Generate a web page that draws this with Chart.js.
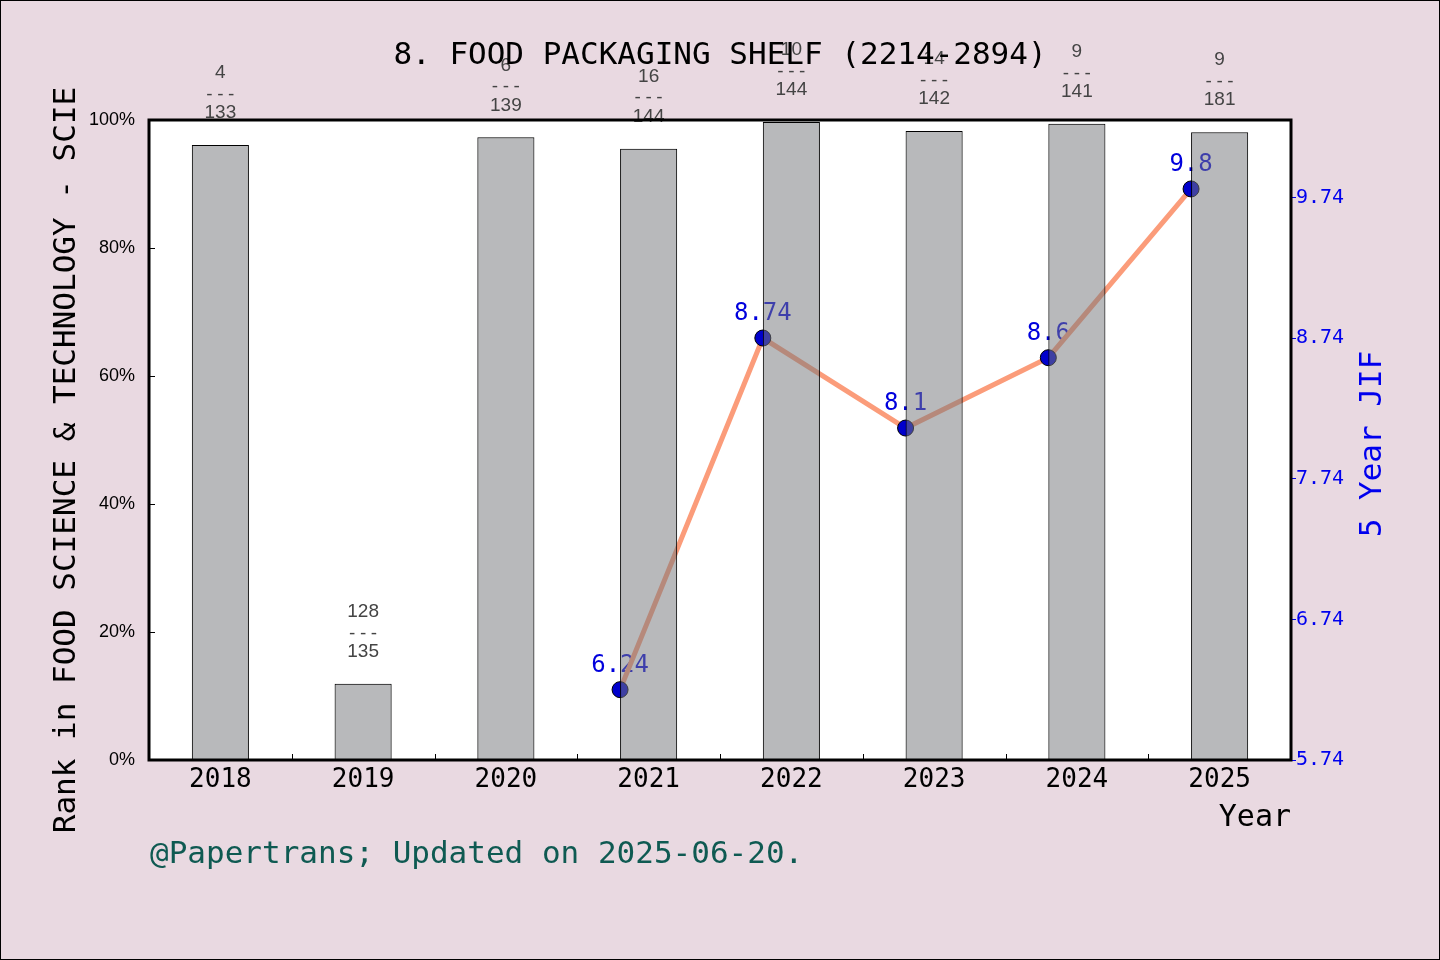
<!DOCTYPE html>
<html>
<head>
<meta charset="utf-8">
<script src="https://cdn.jsdelivr.net/npm/chart.js@4/dist/chart.umd.min.js"></script>
<style>
  html, body { margin: 0; padding: 0; background: #e9d9e1; }
  canvas { display: block; }
</style>
</head>
<body>
<canvas id="c" width="1440" height="960"></canvas>
<script>
// Chart data
const years = ['2018', '2019', '2020', '2021', '2022', '2023', '2024', '2025'];
const rankPct = [96.1, 11.9, 97.3, 95.5, 99.7, 98.3, 99.4, 98.1];
const ranks = ['4', '128', '6', '16', '10', '14', '9', '9'];
const totals = ['133', '135', '139', '144', '144', '142', '141', '181'];
const jif = [null, null, null, 6.24, 8.74, 8.1, 8.6, 9.8];
const jifTicks = [5.74, 6.74, 7.74, 8.74, 9.74];
const jifMax = 10.29;

const MONO = '"DejaVu Sans Mono", monospace';
const SANS = '"Liberation Sans", Arial, sans-serif';
const LINE_SHIFT = 0.2; // line points sit on the left edge of each bar

const jifPoints = jif.map((v, i) => v == null ? null : { x: i - LINE_SHIFT, y: v }).filter(p => p);

const decor = {
    id: 'decor',
    beforeDraw(chart) {
        const { ctx, chartArea: a } = chart;
        ctx.save();
        ctx.fillStyle = '#e9d9e1';
        ctx.fillRect(0, 0, chart.width, chart.height);
        ctx.fillStyle = '#fff';
        ctx.fillRect(a.left, a.top, a.right - a.left, a.bottom - a.top);
        ctx.restore();
    },
    beforeDatasetsDraw(chart) {
        // JIF value labels sit under the bars
        const { ctx } = chart;
        const meta = chart.getDatasetMeta(1);
        ctx.save();
        ctx.font = '24px ' + MONO;
        ctx.fillStyle = '#0000dd';
        ctx.textAlign = 'center';
        ctx.textBaseline = 'bottom';
        meta.data.forEach((pt, i) => {
            ctx.fillText(String(jifPoints[i].y), pt.x, pt.y - 12);
        });
        ctx.restore();
    },
    afterDatasetsDraw(chart) {
        const { ctx, chartArea: a, scales } = chart;
        ctx.save();
        // rank / total labels above bars
        const meta = chart.getDatasetMeta(0);
        ctx.fillStyle = '#444';
        ctx.textAlign = 'center';
        ctx.textBaseline = 'middle';
        meta.data.forEach((bar, i) => {
            const top = bar.y;
            ctx.font = '19px ' + SANS;
            ctx.fillText(totals[i], bar.x, top - 32);
            ctx.fillText(ranks[i], bar.x, top - 72);
            ctx.font = '18px ' + MONO;
            ctx.fillText('---', bar.x, top - 51);
        });

        // inner ticks
        ctx.strokeStyle = '#000';
        ctx.lineWidth = 1;
        ctx.beginPath();
        scales.y.ticks.forEach(t => {
            const y = Math.round(scales.y.getPixelForValue(t.value)) + 0.5;
            ctx.moveTo(a.left, y);
            ctx.lineTo(a.left + 6, y);
        });
        for (let i = 1; i < years.length; i++) {
            const x = Math.round((scales.x.getPixelForValue(i - 1) + scales.x.getPixelForValue(i)) / 2) + 0.5;
            ctx.moveTo(x, a.bottom);
            ctx.lineTo(x, a.bottom - 6);
        }
        ctx.stroke();

        // plot frame
        ctx.lineWidth = 3;
        ctx.strokeRect(a.left, a.top, a.right - a.left, a.bottom - a.top);
        ctx.restore();
    },
    afterDraw(chart) {
        const { ctx, chartArea: a } = chart;
        ctx.save();
        ctx.fillStyle = '#000';
        ctx.textAlign = 'center';
        ctx.textBaseline = 'middle';
        ctx.font = '31px ' + MONO;
        ctx.fillText('8. FOOD PACKAGING SHELF (2214-2894)', 720, 56);

        ctx.font = '30px ' + MONO;
        ctx.textAlign = 'right';
        ctx.fillText('Year', a.right, 818);

        ctx.textAlign = 'left';
        ctx.fillStyle = '#0f5a52';
        ctx.font = '31px ' + MONO;
        ctx.fillText('@Papertrans; Updated on 2025-06-20.', 150, 855);

        ctx.textAlign = 'center';
        ctx.fillStyle = '#000';
        ctx.font = '31px ' + MONO;
        ctx.translate(67, 460);
        ctx.rotate(-Math.PI / 2);
        ctx.fillText('Rank in FOOD SCIENCE & TECHNOLOGY - SCIE', 0, 0);
        ctx.restore();

        ctx.save();
        ctx.fillStyle = '#0000ee';
        ctx.textAlign = 'center';
        ctx.textBaseline = 'middle';
        ctx.font = '31px ' + MONO;
        ctx.translate(1373, 444);
        ctx.rotate(-Math.PI / 2);
        ctx.fillText('5 Year JIF', 0, 0);
        ctx.restore();

        // figure outline
        ctx.save();
        ctx.strokeStyle = '#000';
        ctx.lineWidth = 1;
        ctx.strokeRect(0.5, 0.5, chart.width - 1, chart.height - 1);
        ctx.restore();
    }
};

new Chart(document.getElementById('c'), {
    type: 'bar',
    data: {
        labels: years,
        datasets: [
            {
                type: 'bar',
                label: 'Rank',
                data: rankPct,
                backgroundColor: 'rgba(118, 120, 125, 0.52)',
                borderColor: '#000',
                borderWidth: 1,
                grouped: false,
                barPercentage: 0.4,
                categoryPercentage: 1,
                xAxisID: 'x',
                yAxisID: 'y',
                order: 1
            },
            {
                type: 'line',
                label: 'JIF',
                data: jifPoints,
                borderColor: '#fb9c7a',
                borderWidth: 5,
                tension: 0,
                pointRadius: 8,
                pointBackgroundColor: '#0000cc',
                pointBorderColor: '#000',
                pointBorderWidth: 1,
                xAxisID: 'xl',
                yAxisID: 'y2',
                order: 2
            }
        ]
    },
    options: {
        responsive: false,
        animation: false,
        devicePixelRatio: 1,
        layout: { padding: { top: 120, left: 0, right: 0, bottom: 0 } },
        plugins: {
            legend: { display: false },
            tooltip: { enabled: false }
        },
        scales: {
            x: {
                type: 'category',
                offset: true,
                grid: { display: false },
                border: { display: false },
                ticks: { color: '#000', font: { family: MONO, size: 26 }, padding: -3, maxRotation: 0 },
                afterFit: s => { s.height = 200; }
            },
            xl: {
                type: 'linear',
                display: false,
                offset: false,
                min: -0.5,
                max: years.length - 0.5
            },
            y: {
                position: 'left',
                min: 0,
                max: 100,
                grid: { display: false },
                border: { display: false },
                ticks: { stepSize: 20, color: '#000', font: { family: SANS, size: 18 }, padding: 6, callback: v => v + '%' },
                afterFit: s => { s.width = 149; }
            },
            y2: {
                position: 'right',
                min: jifTicks[0],
                max: jifMax,
                grid: { drawOnChartArea: false, drawTicks: true, tickLength: 5, color: '#0000ee' },
                border: { display: false },
                afterBuildTicks: s => { s.ticks = jifTicks.map(v => ({ value: v })); },
                ticks: { color: '#0000ee', font: { family: MONO, size: 20 }, padding: 0, callback: v => v.toFixed(2) },
                afterFit: s => { s.width = 149; }
            }
        }
    },
    plugins: [decor]
});
</script>
</body>
</html>
